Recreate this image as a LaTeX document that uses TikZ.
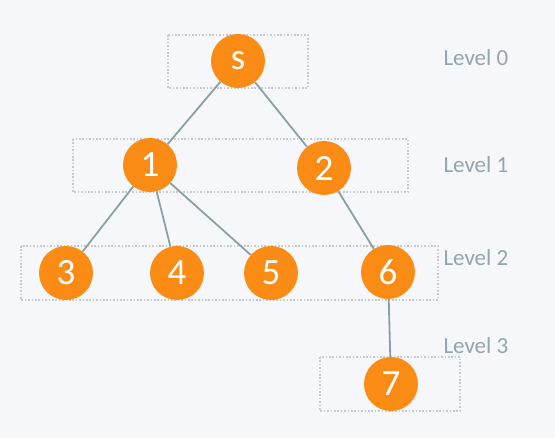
\documentclass[tikz,border=0pt]{standalone}
\usepackage{fontspec}
\setmainfont{Carlito}
\definecolor{bgc}{HTML}{F5F7FA}
\definecolor{orng}{HTML}{FA8C16}
\definecolor{edgec}{HTML}{8C9EA6}
\definecolor{boxc}{HTML}{C6CACF}
\definecolor{lvlc}{HTML}{93A5AE}
\begin{document}
\begin{tikzpicture}[x=1pt,y=-1pt,
  vert/.style={circle,fill=orng,minimum size=54pt,inner sep=0pt,text=white,font=\fontsize{37}{37}\selectfont},
  lvlbox/.style={draw=boxc,line width=1.1pt,dash pattern=on 1.6pt off 1.8pt},
  lvl/.style={text=lvlc,anchor=west,font=\fontsize{23}{23}\selectfont},
  edge/.style={draw=edgec,line width=1.8pt}]
\fill[bgc] (0,0) rectangle (555,438);
\useasboundingbox (0,0) rectangle (555,438);
\draw[lvlbox] (168,35) rectangle (308,88);
\draw[lvlbox] (73,139) rectangle (408,192);
\draw[lvlbox] (21,246) rectangle (438,300);
\draw[lvlbox] (320,357) rectangle (460,411);
\node[lvl] (l0) at (440,58) {Level 0};
\node[lvl] (l1) at (440,165) {Level 1};
\node[lvl] (l2) at (440,258) {Level 2};
\node[lvl] (l3) at (440,346) {Level 3};
\node[vert] (s) at (238,61) {s};
\node[vert] (n1) at (150,165) {1};
\node[vert] (n2) at (324,168) {2};
\node[vert] (n3) at (66,273) {3};
\node[vert] (n4) at (177,273) {4};
\node[vert] (n5) at (271,273) {5};
\node[vert] (n6) at (388,272) {6};
\node[vert] (n7) at (391,384) {7};
\path[edge] (s) -- (n1);
\path[edge] (s) -- (n2);
\path[edge] (n1) -- (n3);
\path[edge] (n1) -- (n4);
\path[edge] (n1) -- (n5);
\path[edge] (n2) -- (n6);
\path[edge] (n6) -- (n7);
\end{tikzpicture}
\end{document}
